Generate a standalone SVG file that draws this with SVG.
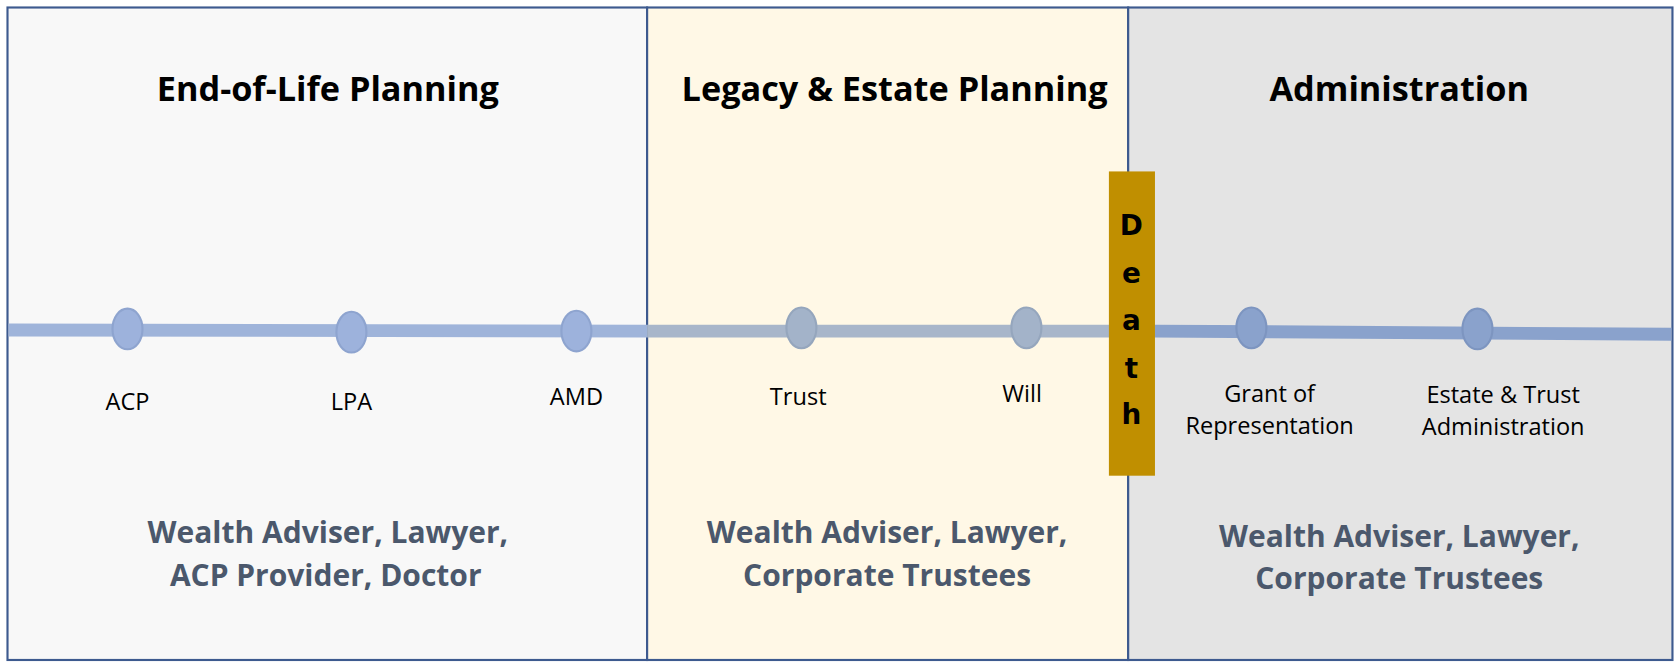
<svg xmlns="http://www.w3.org/2000/svg" width="1680" height="666" viewBox="0 0 1680 666">
<style>
.t{font-family:"Open Sans","Liberation Sans",sans-serif;font-weight:bold;font-size:32px;fill:#000;text-anchor:middle}
.l{font-family:"Open Sans","Liberation Sans",sans-serif;font-size:22px;fill:#000;text-anchor:middle}
.b{font-family:"Open Sans","Liberation Sans",sans-serif;font-weight:bold;font-size:28px;fill:#4b586c;text-anchor:middle}
.d{font-family:"DejaVu Sans",sans-serif;font-weight:bold;font-size:26px;fill:#000;text-anchor:middle}
</style>
<rect width="1680" height="666" fill="#fff"/>
<g transform="scale(1.0714)">
<g id="panel-eol"><rect x="7" y="7" width="597" height="609" fill="#f8f8f8" stroke="#3d5a8f" stroke-width="2"/>
<text class="t" x="306" y="94">End-of-Life Planning</text>
<text class="b" x="306" y="507">Wealth Adviser, Lawyer,</text><text class="b" x="304" y="547">ACP Provider, Doctor</text></g>
<g id="panel-legacy"><rect x="604" y="7" width="449" height="609" fill="#fff8e6" stroke="#3d5a8f" stroke-width="2"/>
<text class="t" x="835" y="94">Legacy &amp; Estate Planning</text>
<text class="b" x="828" y="507">Wealth Adviser, Lawyer,</text><text class="b" x="828" y="547">Corporate Trustees</text></g>
<g id="panel-admin"><rect x="1053" y="7" width="508" height="609" fill="#e4e4e4" stroke="#3d5a8f" stroke-width="2"/>
<text class="t" x="1306" y="94">Administration</text>
<text class="b" x="1306" y="511">Wealth Adviser, Lawyer,</text><text class="b" x="1306" y="550">Corporate Trustees</text></g>
<g id="connectors">
<line x1="8" y1="308" x2="604" y2="309" stroke="#9fb4da" stroke-width="12"/>
<line x1="604" y1="309" x2="1036" y2="309" stroke="#a8b6ca" stroke-width="12"/>
<line x1="1078" y1="309" x2="1560" y2="312" stroke="#8aa2cc" stroke-width="12"/>
</g>
<g id="nodes" stroke-width="2">
<g id="acp"><ellipse cx="119" cy="307" rx="14" ry="19" fill="#9db2dc" stroke="#8ea4cf"/><text class="l" x="119" y="383">ACP</text></g>
<g id="lpa"><ellipse cx="328" cy="310" rx="14" ry="19" fill="#9db2dc" stroke="#8ea4cf"/><text class="l" x="328" y="383">LPA</text></g>
<g id="amd"><ellipse cx="538" cy="309" rx="14" ry="19" fill="#9db2dc" stroke="#8ea4cf"/><text class="l" x="538" y="378">AMD</text></g>
<g id="trust"><ellipse cx="748" cy="306" rx="14" ry="19" fill="#a3b3c9" stroke="#95a6bd"/><text class="l" x="745" y="378">Trust</text></g>
<g id="will"><ellipse cx="958" cy="306" rx="14" ry="19" fill="#a3b3c9" stroke="#95a6bd"/><text class="l" x="954" y="375">Will</text></g>
<g id="grant"><ellipse cx="1168" cy="306" rx="14" ry="19" fill="#8aa2cc" stroke="#7d95c0"/><text class="l" x="1185" y="375">Grant of</text><text class="l" x="1185" y="405">Representation</text></g>
<g id="eta"><ellipse cx="1379" cy="307" rx="14" ry="19" fill="#8aa2cc" stroke="#7d95c0"/><text class="l" x="1403" y="376">Estate &amp; Trust</text><text class="l" x="1403" y="406">Administration</text></g>
<g id="death"><rect x="1035" y="160" width="43" height="284" fill="#c08f00"/>
<text class="d" x="1056" y="219">D</text><text class="d" x="1056" y="264">e</text><text class="d" x="1056" y="308">a</text><text class="d" x="1056" y="353">t</text><text class="d" x="1056" y="396">h</text></g>
</g>
</g>
</svg>
